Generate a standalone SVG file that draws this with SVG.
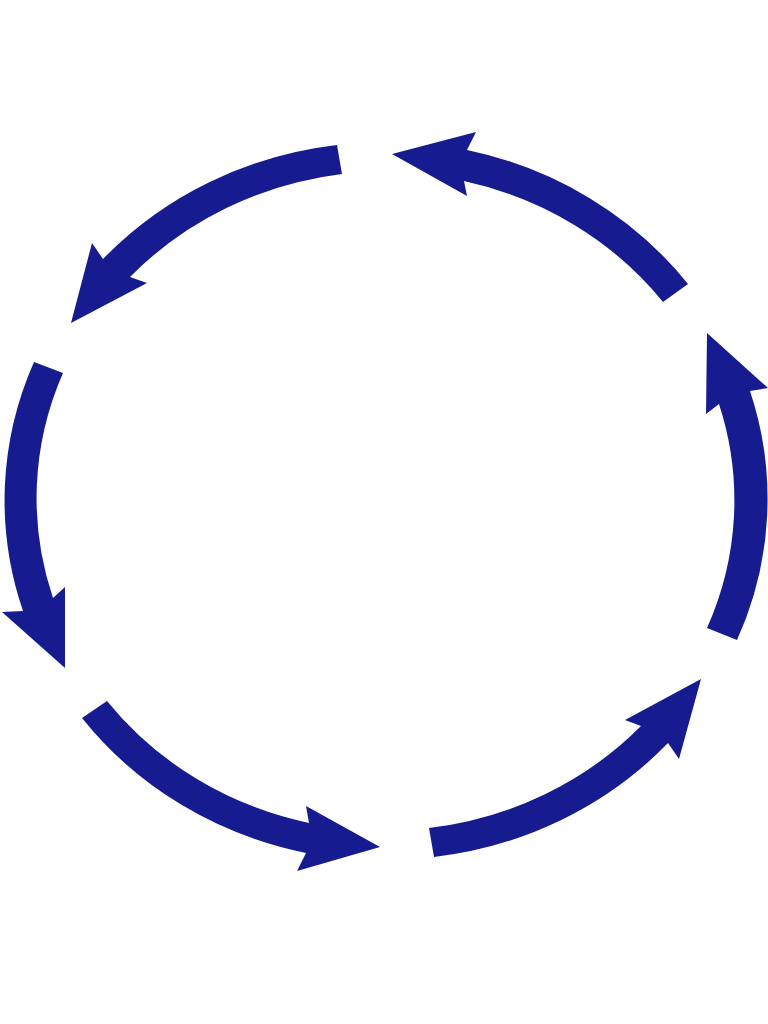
<svg xmlns="http://www.w3.org/2000/svg" width="768" height="1024" viewBox="0 0 768 1024">
<style>
.arrow{fill:#161B8F;stroke:none}
</style>
<rect width="768" height="1024" fill="#ffffff"/>
<g id="connectors">
<path id="arrow-top-right" class="arrow" d="M688,284 A380,359 0 0 0 467,150 L476,132 L392,154 L467,196 L464,181 A350,329 0 0 1 663,302 Z"/>
<path id="arrow-top-left" class="arrow" d="M337,145 A380,359 0 0 0 103,259 L92,243 L71,323 L147,283 L130,277 A350,329 0 0 1 342,174 Z"/>
<path id="arrow-left" class="arrow" d="M34,362 A380,359 0 0 0 23,611 L2,612 L65,668 L65,587 L53,598 A350,329 0 0 1 63,373 Z"/>
<path id="arrow-bottom-left" class="arrow" d="M82,718 A380,359 0 0 0 306,853 L297,871 L380,847 L306,806 L309,823 A350,329 0 0 1 107,701 Z"/>
<path id="arrow-bottom-right" class="arrow" d="M434,857 A380,359 0 0 0 668,743 L679,759 L701,679 L625,720 L641,726 A350,329 0 0 1 429,828 Z"/>
<path id="arrow-right" class="arrow" d="M737,640 A380,359 0 0 0 750,391 L768,388 L707,333 L706,414 L719,404 A350,329 0 0 1 707,628 Z"/>
</g>
</svg>
